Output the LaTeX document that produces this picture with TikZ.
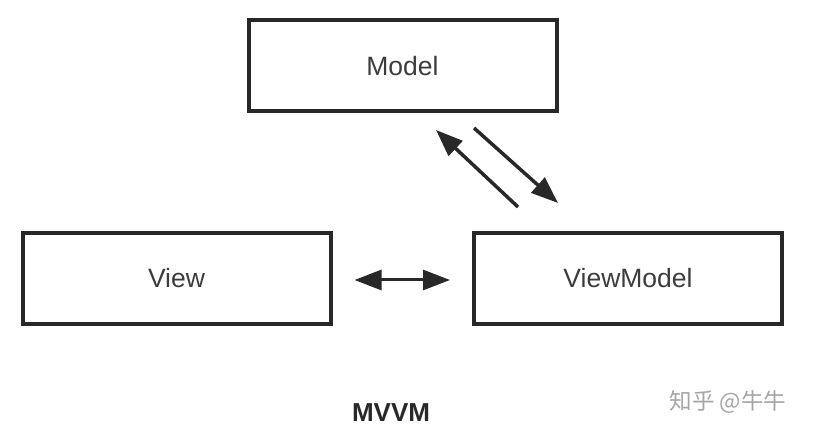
\documentclass[tikz,border=0pt]{standalone}
\usepackage{fontspec}
\setmainfont{Liberation Sans}
\newfontfamily\cjk{Noto Sans CJK SC}
\usetikzlibrary{arrows.meta}
\definecolor{boxline}{RGB}{40,40,40}
\definecolor{boxtext}{RGB}{60,60,60}
\definecolor{markgray}{RGB}{165,165,165}

\begin{document}
\begin{tikzpicture}[x=1pt, y=-1pt,
		bigbox/.style={rectangle, draw=boxline, line width=4pt, minimum width=308pt,
			minimum height=91pt, inner sep=0pt, text=boxtext, font=\fontsize{26.5}{30}\selectfont},
		fatarrow/.style={draw=boxline, line width=3.5pt,
			-{Triangle[length=27pt, width=20pt]}}
		]
		\useasboundingbox (0,0) rectangle (813,435);

		\node[bigbox](M) at (402.5,66){Model};
		\node[bigbox](V) at (176.5,278.5){View};
		\node[bigbox](VM) at (628,278.5){ViewModel};

		% ends of the arrows between the boxes
		\coordinate (A1) at (518,207);
		\coordinate (A2) at (436,130);
		\coordinate (B1) at (474,128);
		\coordinate (B2) at (558,203);
		\draw[fatarrow] (A1) -- (A2);
		\draw[fatarrow] (B1) -- (B2);
		\draw[fatarrow, line width=3pt, {Triangle[length=27pt, width=20pt]}-{Triangle[length=27pt, width=20pt]}]
			(V.east) ++(22,1.5) coordinate (C1) (VM.west) ++(-22,1.5) coordinate (C2) (C1) -- (C2);

		\node[font=\bfseries\fontsize{26}{30}\selectfont, text=boxline](T) at (391,413){MVVM};
		\node[text=markgray, font=\cjk\fontsize{22.5}{26}\selectfont](W) at (728,402){知乎 @牛牛};
	\end{tikzpicture}
\end{document}
